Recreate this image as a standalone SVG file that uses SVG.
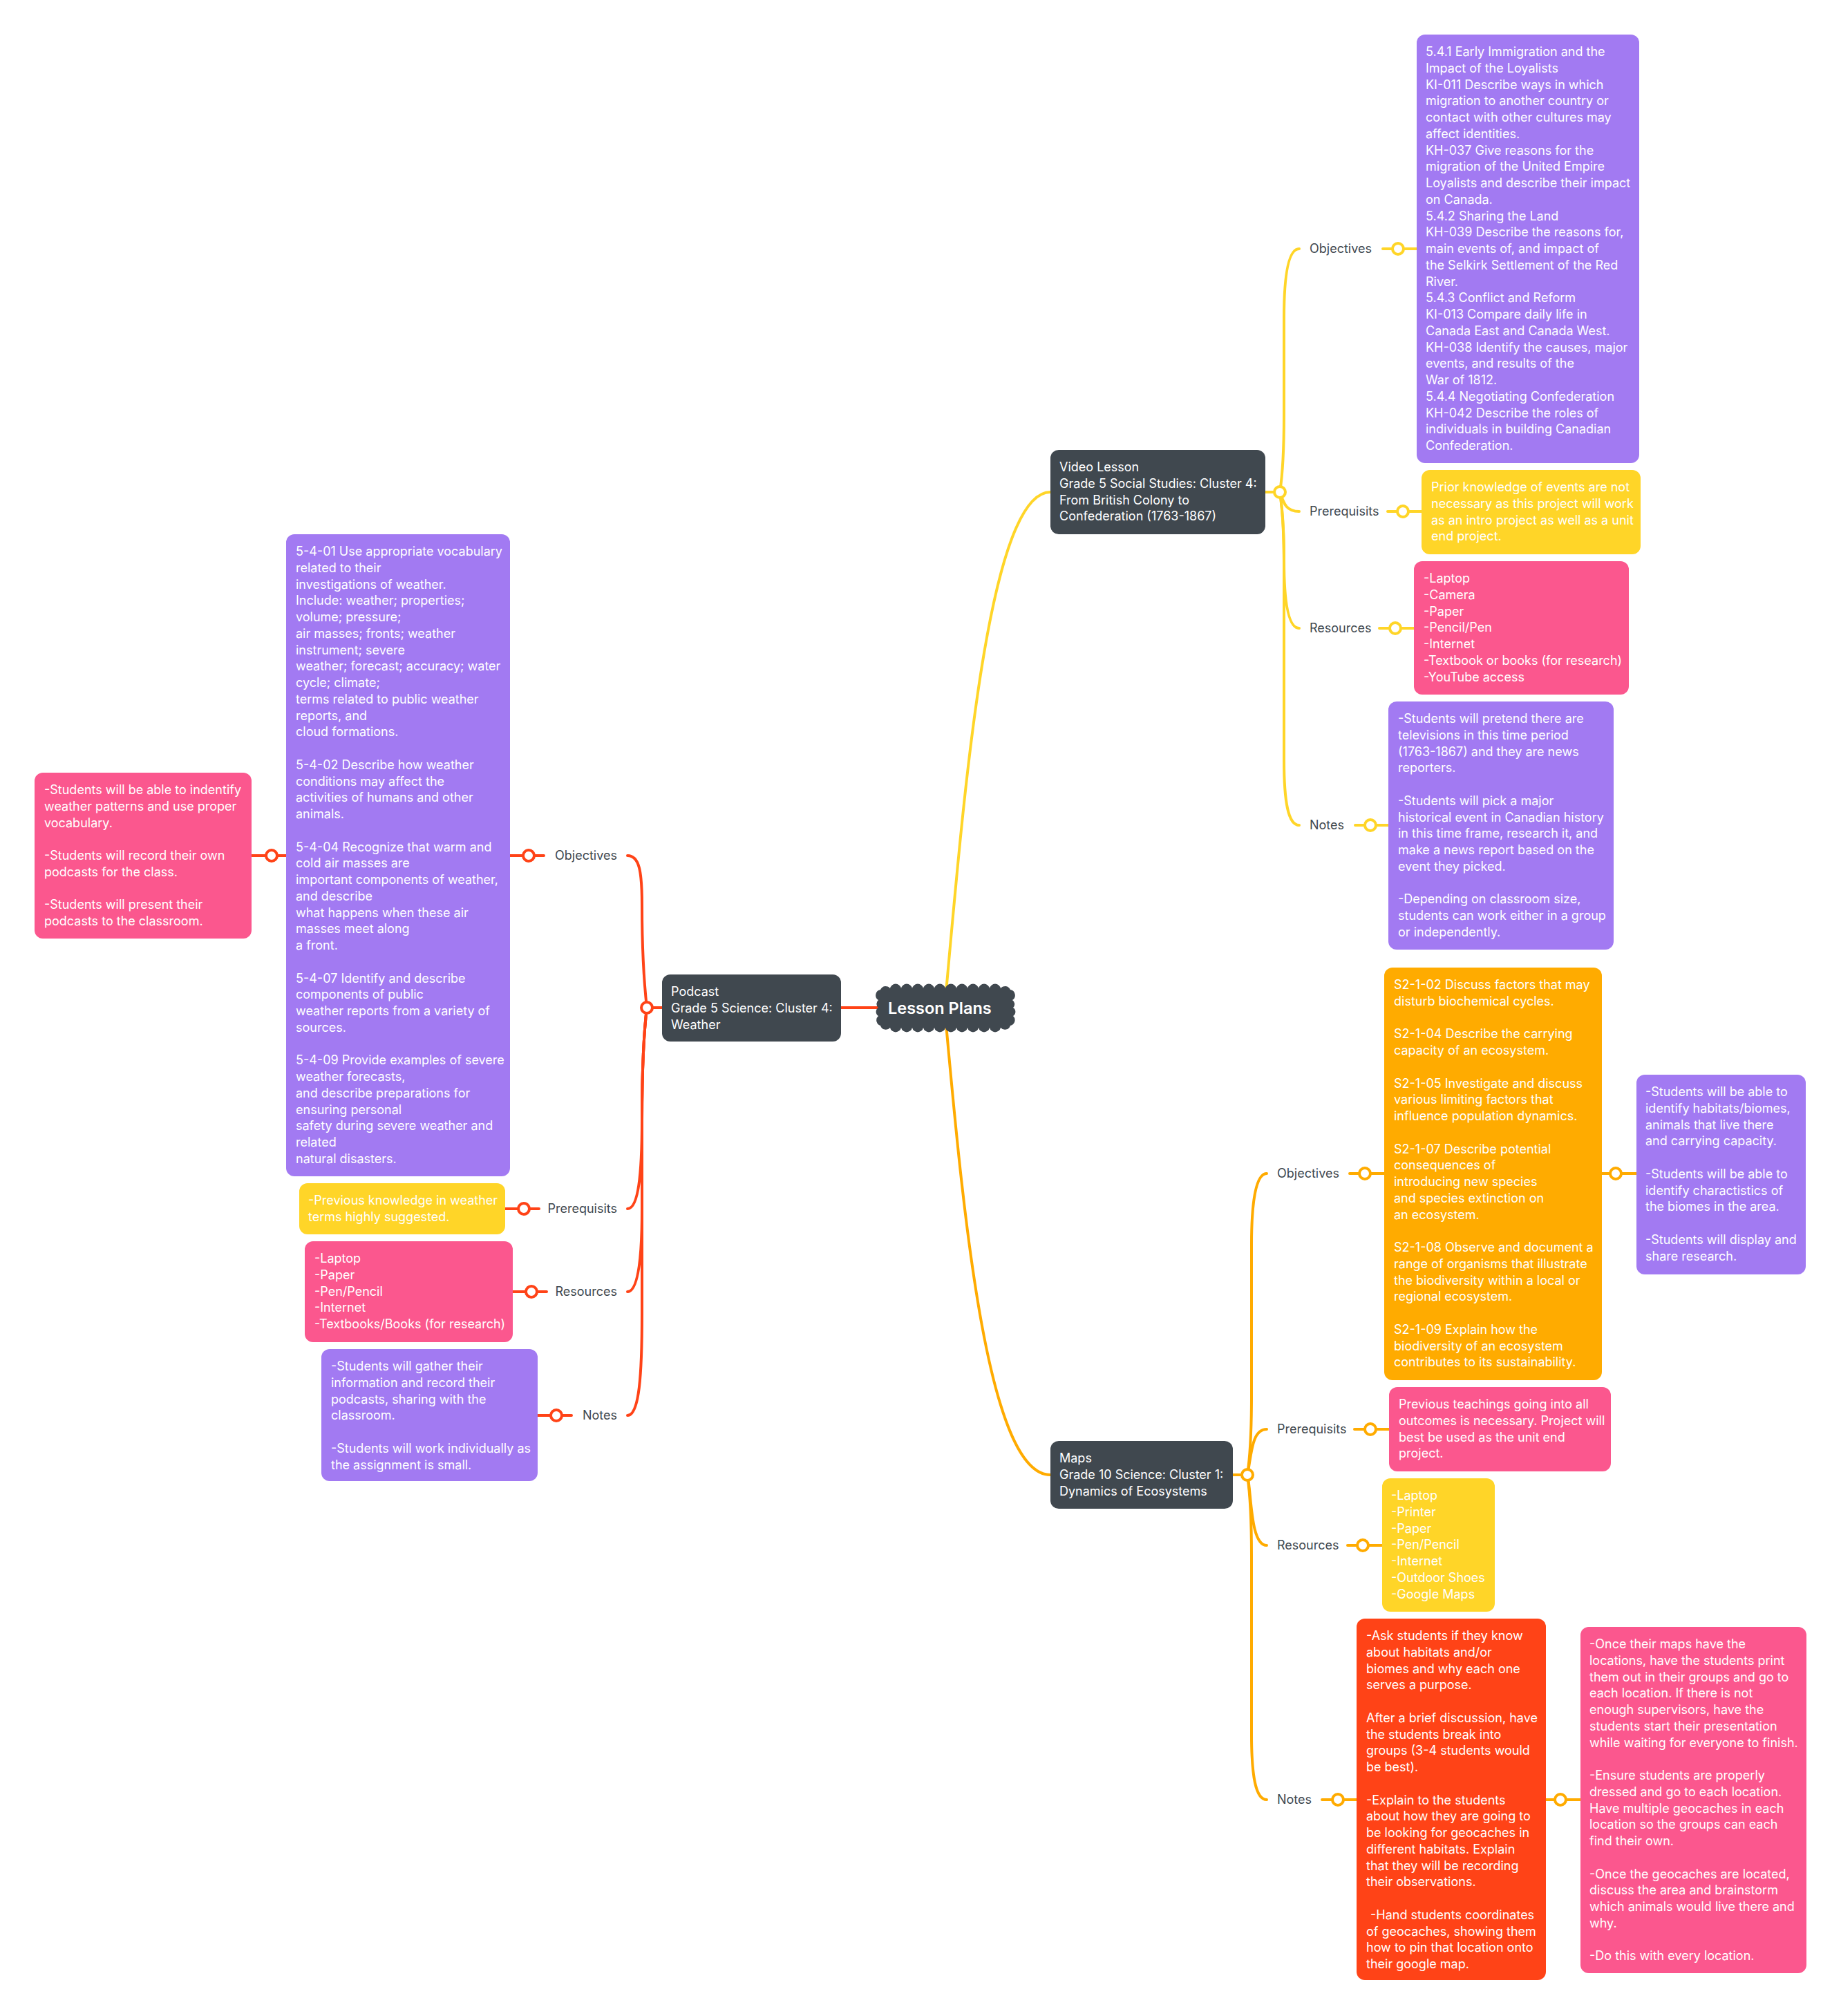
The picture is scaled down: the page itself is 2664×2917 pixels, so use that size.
<svg xmlns="http://www.w3.org/2000/svg" width="2664" height="2917" viewBox="0 0 2664 2917">
<style>
text{font-family:Inter,"Noto Sans","Liberation Sans",sans-serif;font-size:18px;fill:#fff}
.lab{fill:#40484f}
.end{text-anchor:end}
.c{fill:none;stroke-width:4;stroke-linecap:round}
.h{fill:#fff;stroke-width:4}
.y{stroke:#ffd528}.o{stroke:#ffab00}.r{stroke:#ff4317}
.dk{fill:#40484f}.pu{fill:#a27af2}.pk{fill:#fb578e}.ye{fill:#ffd528}.or{fill:#ffab00}.re{fill:#ff4317}
</style>
<rect width="2664" height="2917" fill="#fff"/>
<g id="connectors">
<path class="c y" d="M1367 1458L1370 1424C1395 1150 1430 712 1520 712"/>
<path class="c o" d="M1367 1458L1370 1493C1395 1767 1430 2134 1520 2134"/>
<path class="c r" d="M1270 1458H1217"/>
<path class="c y" d="M1831 712H1852"/>
<path class="c y" d="M1852 712C1857 680 1858 640 1858 600V460C1858 400 1864 360 1880 360"/>
<path class="c y" d="M1852 712C1858 730 1862 740 1880 740"/>
<path class="c y" d="M1852 712C1857 745 1858 780 1858 810C1858 870 1864 909 1880 909"/>
<path class="c y" d="M1852 712C1857 745 1858 780 1858 820V1100C1858 1160 1864 1194 1880 1194"/>
<path class="c y" d="M2001 360H2050M2008 740H2057M1996 909H2046M1961 1194H2009"/>
<path class="c o" d="M1784 2134H1805"/>
<path class="c o" d="M1805 2134C1810 2100 1811 2060 1811 2020V1800C1811 1740 1817 1698 1833 1698"/>
<path class="c o" d="M1805 2134C1811 2105 1811 2068 1833 2068"/>
<path class="c o" d="M1805 2134C1811 2160 1809 2236 1833 2236"/>
<path class="c o" d="M1805 2134C1810 2170 1811 2210 1811 2250V2510C1811 2570 1817 2604 1833 2604"/>
<path class="c o" d="M1953 1698H2003M2318 1698H2368M1960 2068H2010M1950 2236H2000M1913 2604H1963M2237 2604H2287"/>
<path class="c r" d="M958 1458H936"/>
<path class="c r" d="M936 1458C931 1413 929 1350 929 1310C929 1260 925 1238 908 1238"/>
<path class="c r" d="M936 1458C931 1500 929 1560 929 1620C929 1690 925 1749 908 1749"/>
<path class="c r" d="M936 1458C931 1500 929 1560 929 1620V1750C929 1810 925 1869 908 1869"/>
<path class="c r" d="M936 1458C931 1500 929 1560 929 1620V1900C929 1990 925 2048 908 2048"/>
<path class="c r" d="M364 1238H414M738 1238H787M731 1749H780M742 1869H791M778 2048H827"/>
</g>
<g id="hubs">
<circle class="h y" cx="1852" cy="712" r="8"/><circle class="h y" cx="2023" cy="360" r="8"/><circle class="h y" cx="2030" cy="740" r="8"/><circle class="h y" cx="2019" cy="909" r="8"/><circle class="h y" cx="1983" cy="1194" r="8"/>
<circle class="h o" cx="1805" cy="2134" r="8"/><circle class="h o" cx="1975" cy="1698" r="8"/><circle class="h o" cx="2338" cy="1698" r="8"/><circle class="h o" cx="1983" cy="2068" r="8"/><circle class="h o" cx="1972" cy="2236" r="8"/><circle class="h o" cx="1936" cy="2604" r="8"/><circle class="h o" cx="2258" cy="2604" r="8"/>
<circle class="h r" cx="936" cy="1458" r="8"/><circle class="h r" cx="393" cy="1238" r="8"/><circle class="h r" cx="765" cy="1238" r="8"/><circle class="h r" cx="758" cy="1749" r="8"/><circle class="h r" cx="769" cy="1869" r="8"/><circle class="h r" cx="805" cy="2048" r="8"/>
</g>
<g id="root">
<path class="dk" d="M1274 1432A8.2 8.2 0 0 1 1288 1430A8.2 8.2 0 0 1 1304 1430A8.2 8.2 0 0 1 1320 1430A8.2 8.2 0 0 1 1336 1430A8.2 8.2 0 0 1 1352 1430A8.2 8.2 0 0 1 1368 1430A8.2 8.2 0 0 1 1384 1430A8.2 8.2 0 0 1 1400 1430A8.2 8.2 0 0 1 1416 1430A8.2 8.2 0 0 1 1432 1430A8.2 8.2 0 0 1 1448 1430A8.2 8.2 0 0 1 1462 1432A8.2 8.2 0 0 1 1465 1447A7 7 0 0 1 1466 1458A7 7 0 0 1 1466 1470A8.2 8.2 0 0 1 1462 1484A8.2 8.2 0 0 1 1448 1487A8.2 8.2 0 0 1 1432 1487A8.2 8.2 0 0 1 1416 1487A8.2 8.2 0 0 1 1400 1487A8.2 8.2 0 0 1 1384 1487A8.2 8.2 0 0 1 1368 1487A8.2 8.2 0 0 1 1352 1487A8.2 8.2 0 0 1 1336 1487A8.2 8.2 0 0 1 1320 1487A8.2 8.2 0 0 1 1304 1487A8.2 8.2 0 0 1 1288 1487A8.2 8.2 0 0 1 1274 1484A8.2 8.2 0 0 1 1271 1470A7 7 0 0 1 1271 1458A7 7 0 0 1 1271 1447A8.2 8.2 0 0 1 1274 1432Z"/>
<text x="1285" y="1467" style="font-size:23.5px;font-weight:600">Lesson Plans</text>
</g>
<g id="video"><rect class="dk" x="1520" y="651" width="311" height="122" rx="12"/><text y="682"><tspan x="1533">Video Lesson</tspan><tspan x="1533" dy="23.75">Grade 5 Social Studies: Cluster 4:</tspan><tspan x="1533" dy="23.75">From British Colony to</tspan><tspan x="1533" dy="23.75">Confederation (1763-1867)</tspan></text></g>
<g id="video-objectives"><text class="lab" x="1895" y="366">Objectives</text></g>
<g id="video-objectives-detail"><rect class="pu" x="2050" y="50" width="322" height="620" rx="12"/><text y="81"><tspan x="2063">5.4.1 Early Immigration and the</tspan><tspan x="2063" dy="23.75">Impact of the Loyalists</tspan><tspan x="2063" dy="23.75">KI-011 Describe ways in which</tspan><tspan x="2063" dy="23.75">migration to another country or</tspan><tspan x="2063" dy="23.75">contact with other cultures may</tspan><tspan x="2063" dy="23.75">affect identities.</tspan><tspan x="2063" dy="23.75">KH-037 Give reasons for the</tspan><tspan x="2063" dy="23.75">migration of the United Empire</tspan><tspan x="2063" dy="23.75">Loyalists and describe their impact</tspan><tspan x="2063" dy="23.75">on Canada.</tspan><tspan x="2063" dy="23.75">5.4.2 Sharing the Land</tspan><tspan x="2063" dy="23.75">KH-039 Describe the reasons for,</tspan><tspan x="2063" dy="23.75">main events of, and impact of</tspan><tspan x="2063" dy="23.75">the Selkirk Settlement of the Red</tspan><tspan x="2063" dy="23.75">River.</tspan><tspan x="2063" dy="23.75">5.4.3 Conflict and Reform</tspan><tspan x="2063" dy="23.75">KI-013 Compare daily life in</tspan><tspan x="2063" dy="23.75">Canada East and Canada West.</tspan><tspan x="2063" dy="23.75">KH-038 Identify the causes, major</tspan><tspan x="2063" dy="23.75">events, and results of the</tspan><tspan x="2063" dy="23.75">War of 1812.</tspan><tspan x="2063" dy="23.75">5.4.4 Negotiating Confederation</tspan><tspan x="2063" dy="23.75">KH-042 Describe the roles of</tspan><tspan x="2063" dy="23.75">individuals in building Canadian</tspan><tspan x="2063" dy="23.75">Confederation.</tspan></text></g>
<g id="video-prereq"><text class="lab" x="1895" y="746">Prerequisits</text></g>
<g id="video-prereq-detail"><rect class="ye" x="2057" y="680" width="317" height="122" rx="12"/><text y="711"><tspan x="2071">Prior knowledge of events are not</tspan><tspan x="2071" dy="23.75">necessary as this project will work</tspan><tspan x="2071" dy="23.75">as an intro project as well as a unit</tspan><tspan x="2071" dy="23.75">end project.</tspan></text></g>
<g id="video-resources"><text class="lab" x="1895" y="915">Resources</text></g>
<g id="video-resources-detail"><rect class="pk" x="2046" y="812" width="311" height="193" rx="12"/><text y="843"><tspan x="2060">-Laptop</tspan><tspan x="2060" dy="23.75">-Camera</tspan><tspan x="2060" dy="23.75">-Paper</tspan><tspan x="2060" dy="23.75">-Pencil/Pen</tspan><tspan x="2060" dy="23.75">-Internet</tspan><tspan x="2060" dy="23.75">-Textbook or books (for research)</tspan><tspan x="2060" dy="23.75">-YouTube access</tspan></text></g>
<g id="video-notes"><text class="lab" x="1895" y="1200">Notes</text></g>
<g id="video-notes-detail"><rect class="pu" x="2009" y="1015" width="326" height="359" rx="12"/><text y="1046"><tspan x="2023">-Students will pretend there are</tspan><tspan x="2023" dy="23.75">televisions in this time period</tspan><tspan x="2023" dy="23.75">(1763-1867) and they are news</tspan><tspan x="2023" dy="23.75">reporters.</tspan><tspan x="2023" dy="47.5">-Students will pick a major</tspan><tspan x="2023" dy="23.75">historical event in Canadian history</tspan><tspan x="2023" dy="23.75">in this time frame, research it, and</tspan><tspan x="2023" dy="23.75">make a news report based on the</tspan><tspan x="2023" dy="23.75">event they picked.</tspan><tspan x="2023" dy="47.5">-Depending on classroom size,</tspan><tspan x="2023" dy="23.75">students can work either in a group</tspan><tspan x="2023" dy="23.75">or independently.</tspan></text></g>
<g id="maps"><rect class="dk" x="1520" y="2085" width="264" height="98" rx="12"/><text y="2116"><tspan x="1533">Maps</tspan><tspan x="1533" dy="23.75">Grade 10 Science: Cluster 1:</tspan><tspan x="1533" dy="23.75">Dynamics of Ecosystems</tspan></text></g>
<g id="maps-objectives"><text class="lab" x="1848" y="1704">Objectives</text></g>
<g id="maps-objectives-detail"><rect class="or" x="2003" y="1400" width="315" height="597" rx="12"/><text y="1431"><tspan x="2017">S2-1-02 Discuss factors that may</tspan><tspan x="2017" dy="23.75">disturb biochemical cycles.</tspan><tspan x="2017" dy="47.5">S2-1-04 Describe the carrying</tspan><tspan x="2017" dy="23.75">capacity of an ecosystem.</tspan><tspan x="2017" dy="47.5">S2-1-05 Investigate and discuss</tspan><tspan x="2017" dy="23.75">various limiting factors that</tspan><tspan x="2017" dy="23.75">influence population dynamics.</tspan><tspan x="2017" dy="47.5">S2-1-07 Describe potential</tspan><tspan x="2017" dy="23.75">consequences of</tspan><tspan x="2017" dy="23.75">introducing new species</tspan><tspan x="2017" dy="23.75">and species extinction on</tspan><tspan x="2017" dy="23.75">an ecosystem.</tspan><tspan x="2017" dy="47.5">S2-1-08 Observe and document a</tspan><tspan x="2017" dy="23.75">range of organisms that illustrate</tspan><tspan x="2017" dy="23.75">the biodiversity within a local or</tspan><tspan x="2017" dy="23.75">regional ecosystem.</tspan><tspan x="2017" dy="47.5">S2-1-09 Explain how the</tspan><tspan x="2017" dy="23.75">biodiversity of an ecosystem</tspan><tspan x="2017" dy="23.75">contributes to its sustainability.</tspan></text></g>
<g id="maps-objectives-note"><rect class="pu" x="2368" y="1555" width="245" height="289" rx="12"/><text y="1586"><tspan x="2381">-Students will be able to</tspan><tspan x="2381" dy="23.75">identify habitats/biomes,</tspan><tspan x="2381" dy="23.75">animals that live there</tspan><tspan x="2381" dy="23.75">and carrying capacity.</tspan><tspan x="2381" dy="47.5">-Students will be able to</tspan><tspan x="2381" dy="23.75">identify charactistics of</tspan><tspan x="2381" dy="23.75">the biomes in the area.</tspan><tspan x="2381" dy="47.5">-Students will display and</tspan><tspan x="2381" dy="23.75">share research.</tspan></text></g>
<g id="maps-prereq"><text class="lab" x="1848" y="2074">Prerequisits</text></g>
<g id="maps-prereq-detail"><rect class="pk" x="2010" y="2007" width="321" height="122" rx="12"/><text y="2038"><tspan x="2024">Previous teachings going into all</tspan><tspan x="2024" dy="23.75">outcomes is necessary. Project will</tspan><tspan x="2024" dy="23.75">best be used as the unit end</tspan><tspan x="2024" dy="23.75">project.</tspan></text></g>
<g id="maps-resources"><text class="lab" x="1848" y="2242">Resources</text></g>
<g id="maps-resources-detail"><rect class="ye" x="2000" y="2139" width="163" height="193" rx="12"/><text y="2170"><tspan x="2013">-Laptop</tspan><tspan x="2013" dy="23.75">-Printer</tspan><tspan x="2013" dy="23.75">-Paper</tspan><tspan x="2013" dy="23.75">-Pen/Pencil</tspan><tspan x="2013" dy="23.75">-Internet</tspan><tspan x="2013" dy="23.75">-Outdoor Shoes</tspan><tspan x="2013" dy="23.75">-Google Maps</tspan></text></g>
<g id="maps-notes"><text class="lab" x="1848" y="2610">Notes</text></g>
<g id="maps-notes-detail"><rect class="re" x="1963" y="2342" width="274" height="523" rx="12"/><text y="2373"><tspan x="1977">-Ask students if they know</tspan><tspan x="1977" dy="23.75">about habitats and/or</tspan><tspan x="1977" dy="23.75">biomes and why each one</tspan><tspan x="1977" dy="23.75">serves a purpose.</tspan><tspan x="1977" dy="47.5">After a brief discussion, have</tspan><tspan x="1977" dy="23.75">the students break into</tspan><tspan x="1977" dy="23.75">groups (3-4 students would</tspan><tspan x="1977" dy="23.75">be best).</tspan><tspan x="1977" dy="47.5">-Explain to the students</tspan><tspan x="1977" dy="23.75">about how they are going to</tspan><tspan x="1977" dy="23.75">be looking for geocaches in</tspan><tspan x="1977" dy="23.75">different habitats. Explain</tspan><tspan x="1977" dy="23.75">that they will be recording</tspan><tspan x="1977" dy="23.75">their observations.</tspan><tspan x="1983" dy="47.5">-Hand students coordinates</tspan><tspan x="1977" dy="23.75">of geocaches, showing them</tspan><tspan x="1977" dy="23.75">how to pin that location onto</tspan><tspan x="1977" dy="23.75">their google map.</tspan></text></g>
<g id="maps-notes-note"><rect class="pk" x="2287" y="2354" width="327" height="501" rx="12"/><text y="2385"><tspan x="2300">-Once their maps have the</tspan><tspan x="2300" dy="23.75">locations, have the students print</tspan><tspan x="2300" dy="23.75">them out in their groups and go to</tspan><tspan x="2300" dy="23.75">each location. If there is not</tspan><tspan x="2300" dy="23.75">enough supervisors, have the</tspan><tspan x="2300" dy="23.75">students start their presentation</tspan><tspan x="2300" dy="23.75">while waiting for everyone to finish.</tspan><tspan x="2300" dy="47.5">-Ensure students are properly</tspan><tspan x="2300" dy="23.75">dressed and go to each location.</tspan><tspan x="2300" dy="23.75">Have multiple geocaches in each</tspan><tspan x="2300" dy="23.75">location so the groups can each</tspan><tspan x="2300" dy="23.75">find their own.</tspan><tspan x="2300" dy="47.5">-Once the geocaches are located,</tspan><tspan x="2300" dy="23.75">discuss the area and brainstorm</tspan><tspan x="2300" dy="23.75">which animals would live there and</tspan><tspan x="2300" dy="23.75">why.</tspan><tspan x="2300" dy="47.5">-Do this with every location.</tspan></text></g>
<g id="podcast"><rect class="dk" x="958" y="1410" width="259" height="97" rx="12"/><text y="1441"><tspan x="971">Podcast</tspan><tspan x="971" dy="23.75">Grade 5 Science: Cluster 4:</tspan><tspan x="971" dy="23.75">Weather</tspan></text></g>
<g id="podcast-objectives"><text class="lab end" x="893" y="1244">Objectives</text></g>
<g id="podcast-objectives-detail"><rect class="pu" x="414" y="773" width="324" height="929" rx="12"/><text y="804"><tspan x="428">5-4-01 Use appropriate vocabulary</tspan><tspan x="428" dy="23.75">related to their</tspan><tspan x="428" dy="23.75">investigations of weather.</tspan><tspan x="428" dy="23.75">Include: weather; properties;</tspan><tspan x="428" dy="23.75">volume; pressure;</tspan><tspan x="428" dy="23.75">air masses; fronts; weather</tspan><tspan x="428" dy="23.75">instrument; severe</tspan><tspan x="428" dy="23.75">weather; forecast; accuracy; water</tspan><tspan x="428" dy="23.75">cycle; climate;</tspan><tspan x="428" dy="23.75">terms related to public weather</tspan><tspan x="428" dy="23.75">reports, and</tspan><tspan x="428" dy="23.75">cloud formations.</tspan><tspan x="428" dy="47.5">5-4-02 Describe how weather</tspan><tspan x="428" dy="23.75">conditions may affect the</tspan><tspan x="428" dy="23.75">activities of humans and other</tspan><tspan x="428" dy="23.75">animals.</tspan><tspan x="428" dy="47.5">5-4-04 Recognize that warm and</tspan><tspan x="428" dy="23.75">cold air masses are</tspan><tspan x="428" dy="23.75">important components of weather,</tspan><tspan x="428" dy="23.75">and describe</tspan><tspan x="428" dy="23.75">what happens when these air</tspan><tspan x="428" dy="23.75">masses meet along</tspan><tspan x="428" dy="23.75">a front.</tspan><tspan x="428" dy="47.5">5-4-07 Identify and describe</tspan><tspan x="428" dy="23.75">components of public</tspan><tspan x="428" dy="23.75">weather reports from a variety of</tspan><tspan x="428" dy="23.75">sources.</tspan><tspan x="428" dy="47.5">5-4-09 Provide examples of severe</tspan><tspan x="428" dy="23.75">weather forecasts,</tspan><tspan x="428" dy="23.75">and describe preparations for</tspan><tspan x="428" dy="23.75">ensuring personal</tspan><tspan x="428" dy="23.75">safety during severe weather and</tspan><tspan x="428" dy="23.75">related</tspan><tspan x="428" dy="23.75">natural disasters.</tspan></text></g>
<g id="podcast-objectives-note"><rect class="pk" x="50" y="1118" width="314" height="240" rx="12"/><text y="1149"><tspan x="64">-Students will be able to indentify</tspan><tspan x="64" dy="23.75">weather patterns and use proper</tspan><tspan x="64" dy="23.75">vocabulary.</tspan><tspan x="64" dy="47.5">-Students will record their own</tspan><tspan x="64" dy="23.75">podcasts for the class.</tspan><tspan x="64" dy="47.5">-Students will present their</tspan><tspan x="64" dy="23.75">podcasts to the classroom.</tspan></text></g>
<g id="podcast-prereq"><text class="lab end" x="893" y="1755">Prerequisits</text></g>
<g id="podcast-prereq-detail"><rect class="ye" x="433" y="1712" width="298" height="74" rx="12"/><text y="1743"><tspan x="446">-Previous knowledge in weather</tspan><tspan x="446" dy="23.75">terms highly suggested.</tspan></text></g>
<g id="podcast-resources"><text class="lab end" x="893" y="1875">Resources</text></g>
<g id="podcast-resources-detail"><rect class="pk" x="441" y="1796" width="301" height="146" rx="12"/><text y="1827"><tspan x="455">-Laptop</tspan><tspan x="455" dy="23.75">-Paper</tspan><tspan x="455" dy="23.75">-Pen/Pencil</tspan><tspan x="455" dy="23.75">-Internet</tspan><tspan x="455" dy="23.75">-Textbooks/Books (for research)</tspan></text></g>
<g id="podcast-notes"><text class="lab end" x="893" y="2054">Notes</text></g>
<g id="podcast-notes-detail"><rect class="pu" x="465" y="1952" width="313" height="191" rx="12"/><text y="1983"><tspan x="479">-Students will gather their</tspan><tspan x="479" dy="23.75">information and record their</tspan><tspan x="479" dy="23.75">podcasts, sharing with the</tspan><tspan x="479" dy="23.75">classroom.</tspan><tspan x="479" dy="47.5">-Students will work individually as</tspan><tspan x="479" dy="23.75">the assignment is small.</tspan></text></g>
</svg>
